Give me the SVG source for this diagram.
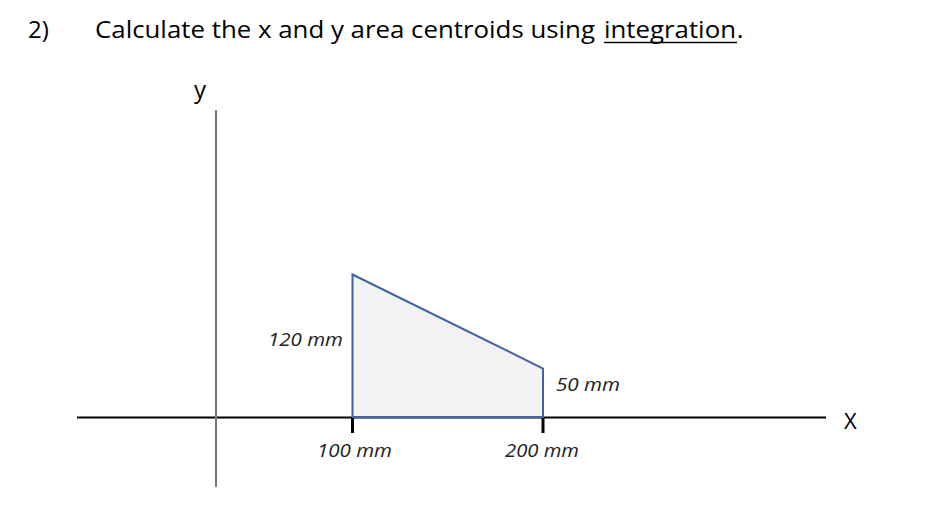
<svg xmlns="http://www.w3.org/2000/svg" width="936" height="507" viewBox="0 0 936 507">
<style>
.t{font-family:"Open Sans","Liberation Sans",sans-serif;fill:#000}
.lab{font-family:"Open Sans","Liberation Sans",sans-serif;font-style:italic;font-size:18px;fill:#222}
.ax{stroke:#000;stroke-width:2;fill:none}
.tick{stroke:#000;stroke-width:3}
</style>
<rect width="936" height="507" fill="#fff"/>
<text class="t" x="28" y="38" font-size="24">2)</text>
<text class="t" x="95" y="38" font-size="24" textLength="500" lengthAdjust="spacingAndGlyphs">Calculate the x and y area centroids using</text>
<text class="t" x="604" y="38" font-size="24" textLength="132" lengthAdjust="spacingAndGlyphs">integration</text>
<text class="t" x="737" y="38" font-size="24">.</text>
<line x1="604" y1="42.5" x2="737" y2="42.5" stroke="#000" stroke-width="1.5"/>
<g id="axes">
<line class="ax" x1="77" y1="417.5" x2="826" y2="417.5"/>
<line x1="216" y1="110" x2="216" y2="487" stroke="#777" stroke-width="2"/>
<text class="t" x="194" y="98" font-size="24">y</text>
<text class="t" x="844" y="429" font-size="22">X</text>
</g>
<g id="shape">
<polygon points="352.5,274.5 543,368.5 543,417 352.5,417" fill="#f2f2f2" stroke="#3e64a6" stroke-width="2"/>
</g>
<g id="ticks">
<line class="tick" x1="352.5" y1="418" x2="352.5" y2="433"/>
<line class="tick" x1="543" y1="418" x2="543" y2="433"/>
</g>
<g id="labels">
<text class="lab" x="268" y="346" textLength="75" lengthAdjust="spacingAndGlyphs">120 mm</text>
<text class="lab" x="556" y="391" textLength="64" lengthAdjust="spacingAndGlyphs">50 mm</text>
<text class="lab" x="317" y="457" textLength="75" lengthAdjust="spacingAndGlyphs">100 mm</text>
<text class="lab" x="505" y="457" textLength="74" lengthAdjust="spacingAndGlyphs">200 mm</text>
</g>
</svg>
